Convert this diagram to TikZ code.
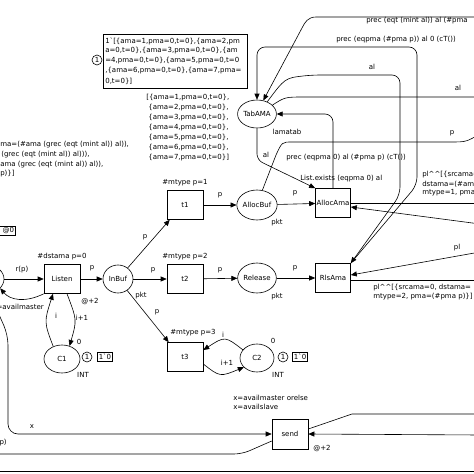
\documentclass[tikz,border=0pt]{standalone}
\usepackage{fontspec}
\setmainfont{DejaVu Sans}
\usetikzlibrary{arrows.meta}
\usetikzlibrary{shapes.geometric}

\begin{document}
\begin{tikzpicture}[x=1pt, y=-1pt, line width=0.6pt, font=\fontsize{7}{10}\selectfont]
\tikzset{place/.style={draw, ellipse, inner sep=0pt, minimum width=34pt, minimum height=28pt}}
\tikzset{trans/.style={draw, inner sep=0pt, minimum width=36pt, minimum height=29pt}}
\tikzset{lbl/.style={inner sep=0pt}}
\tikzset{tok/.style={draw, circle, fill=white, inner sep=0pt, minimum size=10pt}}
\tikzset{initbox/.style={draw, inner sep=1.5pt}}
\tikzstyle{pointer} = [-{Triangle[length=6pt,width=5pt]}]
\useasboundingbox (0,0) rectangle (474,474);

% places
\node[place] (tabama) at (257,114) {TabAMA};
\node[place, minimum height=30pt] (allocbuf) at (257,205) {AllocBuf};
\node[place, minimum height=30pt] (release) at (257,278) {Release};
\node[place, minimum width=30pt] (inbuf) at (118,279) {InBuf};
\node[place, minimum width=36pt] (c1) at (62,359) {C1};
\node[place] (c2) at (257,358) {C2};
\node[place] (outside) at (-13,279) {};

% transitions
\node[trans] (listen) at (62,279) {Listen};
\node[trans] (t1) at (185,205) {t1};
\node[trans] (t2) at (185,279) {t2};
\node[trans] (t3) at (185,357) {t3};
\node[trans, minimum width=35pt] (allocama) at (333,203) {AllocAma};
\node[trans, minimum width=35pt] (rlsama) at (333,278) {RlsAma};
\node[trans, minimum height=30pt] (send) at (290,434) {send};

% initial marking of TabAMA
\node[draw, inner sep=0pt, minimum width=144pt, minimum height=54pt] (initmark) at (175,61) {};
\node[lbl, anchor=west] (im1) at (105,41) {1\textasciigrave[\{ama=1,pma=0,t=0\},\{ama=2,pm};
\node[lbl, anchor=west] (im2) at (105,51) {a=0,t=0\},\{ama=3,pma=0,t=0\},\{am};
\node[lbl, anchor=west] (im3) at (105,61) {=4,pma=0,t=0\},\{ama=5,pma=0,t=0};
\node[lbl, anchor=west] (im4) at (105,71) {,\{ama=6,pma=0,t=0\},\{ama=7,pma=};
\node[lbl, anchor=west] (im5) at (105,81) {0,t=0\}]};
\node[tok] (imtok) at (97,60) {1};

% current marking of TabAMA
\node[lbl, anchor=west] (cm1) at (146,98) {[\{ama=1,pma=0,t=0\},};
\node[lbl, anchor=west] (cm2) at (148,108) {\{ama=2,pma=0,t=0\},};
\node[lbl, anchor=west] (cm3) at (148,118) {\{ama=3,pma=0,t=0\},};
\node[lbl, anchor=west] (cm4) at (148,128) {\{ama=4,pma=0,t=0\},};
\node[lbl, anchor=west] (cm5) at (148,138) {\{ama=5,pma=0,t=0\},};
\node[lbl, anchor=west] (cm6) at (148,148) {\{ama=6,pma=0,t=0\},};
\node[lbl, anchor=west] (cm7) at (148,158) {\{ama=7,pma=0,t=0\}]};

% text at the left border
\node[lbl, anchor=west] (lt1) at (0,145) {ma=(\#ama (grec (eqt (mint al)) al)),};
\node[lbl, anchor=west] (lt2) at (1,155) {(grec (eqt (mint al)) al))),};
\node[lbl, anchor=west] (lt3) at (0,165) {ama (grec (eqt (mint al)) al)),};
\node[lbl, anchor=west] (lt4) at (0,174) {p)\}]};
\node[initbox, anchor=east, text width=27pt, align=right] (timebox) at (16,231) {@0};

% guards and regions
\node[lbl] (gdlisten) at (62,257) {\#dstama p=0};
\node[lbl] (gdt1) at (185,183) {\#mtype p=1};
\node[lbl] (gdt2) at (185,257) {\#mtype p=2};
\node[lbl] (gdt3) at (193,333) {\#mtype p=3};
\node[lbl, anchor=west] (gdalloc) at (300,179) {List.exists (eqpma 0) al};
\node[lbl] (tmlisten) at (90,302) {@+2};
\node[lbl] (tmsend) at (322,449) {@+2};
\node[lbl, anchor=west] (gdsend1) at (233,398) {x=availmaster orelse};
\node[lbl, anchor=west] (gdsend2) at (233,407) {x=availslave};
\node[lbl] (lamatab) at (287,132) {lamatab};
\node[lbl] (pkt1) at (277,223) {pkt};
\node[lbl] (pkt2) at (277,297) {pkt};
\node[lbl] (pkt3) at (141,296) {pkt};

% counters
\node[lbl] (c1init) at (79,342) {0};
\node[tok] (c1tok) at (87,357) {1};
\node[initbox] (c1mark) at (105,357) {1\textasciigrave 0};
\node[lbl] (c1type) at (83,375) {INT};
\node[lbl] (c2init) at (273,341) {0};
\node[tok] (c2tok) at (283,357) {1};
\node[initbox] (c2mark) at (300,357) {1\textasciigrave 0};
\node[lbl] (c2type) at (278,375) {INT};

% free ends
\coordinate (eqtin) at (480,17);
\coordinate (alout) at (480,97);
\coordinate (pin) at (480,134);
\coordinate (aaout) at (480,203);
\coordinate (aain) at (480,224);
\coordinate (rain) at (480,252);
\coordinate (raout) at (480,280);
\coordinate (sendout) at (480,414);
\coordinate (sendin) at (480,435);
\coordinate (xin) at (-3,310);
\coordinate (pout) at (-10,454);
\coordinate (bl) at (-10,471);
\coordinate (br) at (480,471);

% arcs
\draw [pointer] (outside) -- (listen);
\node[lbl] (rp) at (22,270) {r(p)};
\draw [pointer] (listen.south west) .. controls (25,303) and (10,300) .. (outside.-35);
\node[lbl, anchor=east] (avm) at (44,307) {x=availmaster};
\draw [pointer] (listen) -- (inbuf);
\node[lbl] (p1) at (92,268) {p};
\draw [pointer] (inbuf) -- ([xshift=3pt]t1.south west);
\node[lbl] (p2) at (145,237) {p};
\draw [pointer] (inbuf) -- (t2);
\node[lbl] (p3) at (153,270) {p};
\draw [pointer] (inbuf) -- ([xshift=2pt]t3.north west);
\node[lbl] (p4) at (157,312) {p};
\draw [pointer] (t1) -- (allocbuf);
\node[lbl] (p5) at (220,195) {p};
\draw [pointer] (t2) -- (release);
\node[lbl] (p6) at (220,270) {p};
\draw [pointer] (allocbuf) -- (allocama);
\node[lbl] (p7) at (295,193) {p};
\draw [pointer] (release) -- (rlsama);
\node[lbl] (p8) at (295,268) {p};

\draw [pointer] (c1.125) .. controls (44,322) .. ([xshift=-9pt]listen.south);
\node[lbl] (i1) at (56,316) {i};
\draw [pointer] ([xshift=5pt]listen.south) .. controls (77,320) .. (c1.60);
\node[lbl] (i2) at (82,318) {i+1};
\draw [pointer] (c2.150) .. controls (225,336) .. ([yshift=7pt]t3.east);
\node[lbl] (i3) at (223,335) {i};
\draw [pointer] ([yshift=-7pt]t3.east) .. controls (220,377) .. (c2.215);
\node[lbl] (i4) at (227,363) {i+1};

\draw [pointer, rounded corners=6pt] (tabama.south) -- (257,160) -- (allocama.north west);
\node[lbl] (al1) at (266,155) {al};
\draw [pointer, rounded corners=8pt] (allocama.north) |- (tabama.east);
\node[lbl, anchor=west] (prec1) at (286,158) {prec (eqpma 0) al (\#pma p) (cT())};
\draw [pointer, rounded corners=8pt] (tabama.50) .. controls (285,78) .. (312,75) -- (400,75) -- (400,195) -- (rlsama.north east);
\node[lbl] (al2) at (372,67) {al};
\draw [pointer, rounded corners=8pt] (rlsama.north east) -- (417,185) -- (417,47) -- (257,47) -- (tabama.north);
\node[lbl] (prec2) at (396,40) {prec (eqpma (\#pma p)) al 0 (cT())};
\draw [pointer] (eqtin) -- (316,17) .. controls (308,17) and (305,22) .. (302,28) -- (tabama.65);
\node[lbl, anchor=west] (prec3) at (366,21) {prec (eqt (mint al)) al (\#pma};
\draw (tabama.30) .. controls (285,97) .. (305,97) -- (alout);
\node[lbl] (al3) at (458,88) {al};
\draw (pin) .. controls (466,142) .. (450,142) -- (292,142) .. controls (282,142) .. (276,155) -- (allocbuf.70);
\node[lbl] (p9) at (452,133) {p};

\draw (allocama.east) -- (aaout);
\node[lbl, anchor=west] (pl1) at (422,175) {pl\textasciicircum\textasciicircum[\{srcama=};
\node[lbl, anchor=west] (pl2) at (422,184) {dstama=(\#ama};
\node[lbl, anchor=west] (pl3) at (422,193) {mtype=1, pma=};
\draw [pointer] (aain) -- ([yshift=-4pt]allocama.east);
\draw [pointer] (rain) -- ([yshift=3pt]rlsama.east);
\node[lbl] (pl4) at (457,248) {pl};
\draw ([yshift=-2pt]rlsama.east) -- (raout);
\node[lbl, anchor=west] (pl5) at (373,288) {pl\textasciicircum\textasciicircum[\{srcama=0, dstama=};
\node[lbl, anchor=west] (pl6) at (373,297) {mtype=2, pma=(\#pma p)\}]};

\draw [pointer, rounded corners=10pt] (xin) -- (8,335) -- (8,434) -- (send.west);
\node[lbl] (x1) at (32,427) {x};
\draw [rounded corners=8pt] ([yshift=-7pt]send.west) -- (242,454) -- (pout);
\node[lbl, anchor=east] (rp2) at (7,443) {r(p)};
\draw [pointer] (sendin) -- (send.east);
\draw ([yshift=5pt]send.east) -- (352,414) -- (sendout);
\draw (bl) -- (br);
\end{tikzpicture}
\end{document}
